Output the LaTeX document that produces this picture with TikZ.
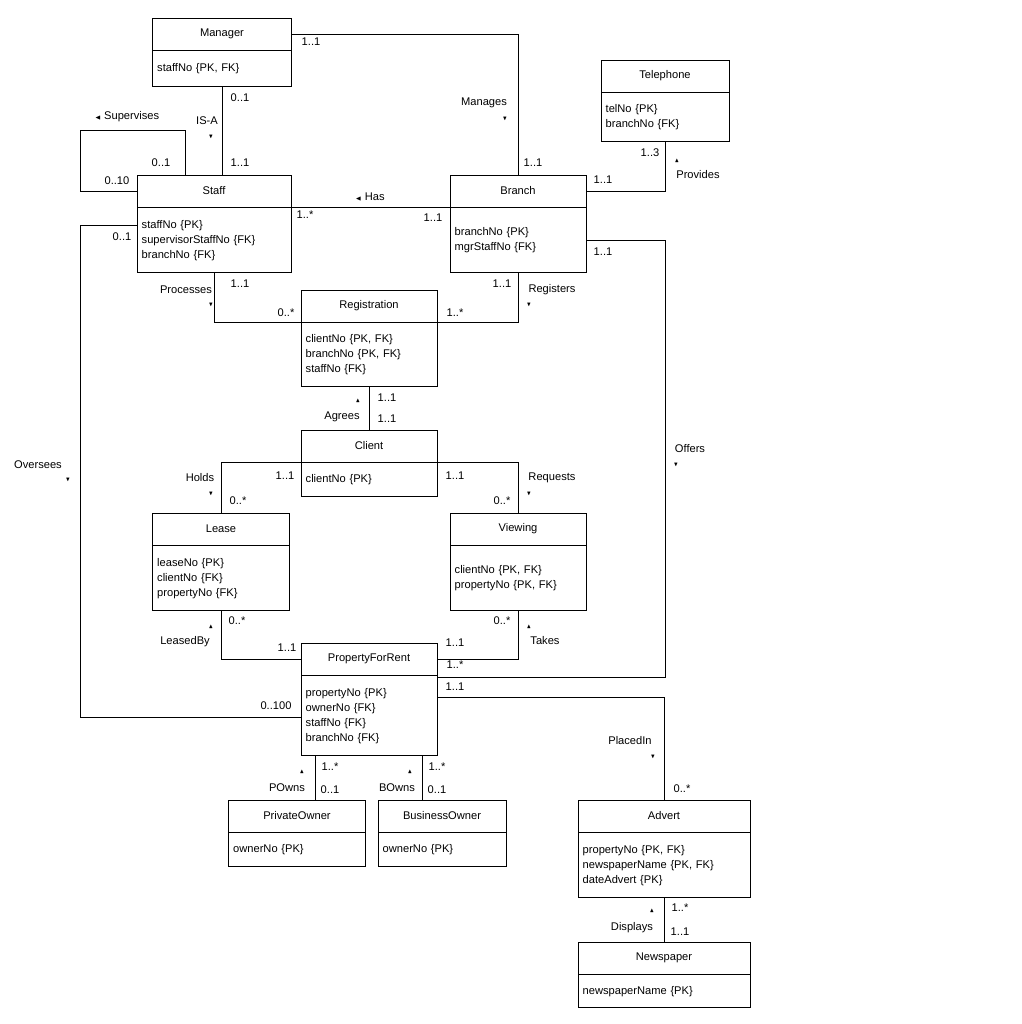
\documentclass[tikz,border=0pt]{standalone}
\usepackage{amssymb}
\usepackage{fontspec}
\setmainfont{Liberation Sans}
\usetikzlibrary{positioning,calc}
\tikzstyle{classhead} = [draw, thick, minimum height=9.6mm, inner sep=0pt]
\tikzstyle{classbody} = [draw, thick, inner xsep=4pt, inner ysep=2pt, align=left]
\tikzstyle{lbl} = [inner sep=1pt]
\tikzstyle{link} = [draw, thick]
\newcommand{\dn}{{\tiny$\blacktriangledown$}}
\newcommand{\up}{{\tiny$\blacktriangle$}}
\newcommand{\lf}{{\tiny$\blacktriangleleft$}}
% name, position, width (px), title, body height (px), attributes
\newcommand{\umlclass}[6]{%
  \pgfmathsetlengthmacro\clw{#3*0.3mm}%
  \pgfmathsetlengthmacro\clt{#3*0.3mm-8pt}%
  \pgfmathsetlengthmacro\clh{#5*0.3mm}%
  \node[classhead, minimum width=\clw] (#1) at (#2) {#4};
  \node[classbody, text width=\clt, minimum height=\clh, below=0pt of #1] (#1-attr) {#6};
}

\begin{document}
\begin{tikzpicture}[x=0.3mm, y=-0.3mm, font=\fontsize{9.5}{12.8}\selectfont, line width=0.6pt]
  \useasboundingbox (0,0) rectangle (1021,1024);

  \umlclass{manager}{222,34}{139}{Manager}{36}{staffNo \{PK, FK\}}
  \umlclass{telephone}{665,76}{128}{Telephone}{49}{telNo \{PK\}\\branchNo \{FK\}}
  \umlclass{staff}{214,191}{154}{Staff}{65}{staffNo \{PK\}\\supervisorStaffNo \{FK\}\\branchNo \{FK\}}
  \umlclass{branch}{518,191}{136}{Branch}{65}{branchNo \{PK\}\\mgrStaffNo \{FK\}}
  \umlclass{registration}{369,306}{136}{Registration}{64}{clientNo \{PK, FK\}\\branchNo \{PK, FK\}\\staffNo \{FK\}}
  \umlclass{client}{369,446}{136}{Client}{34}{\centering clientNo \{PK\}}
  \umlclass{lease}{221,529}{137}{Lease}{65}{leaseNo \{PK\}\\clientNo \{FK\}\\propertyNo \{FK\}}
  \umlclass{viewing}{518,529}{136}{Viewing}{65}{clientNo \{PK, FK\}\\propertyNo \{PK, FK\}}
  \umlclass{pfr}{369,659}{136}{PropertyForRent}{80}{propertyNo \{PK\}\\ownerNo \{FK\}\\staffNo \{FK\}\\branchNo \{FK\}}
  \umlclass{powner}{297,816}{137}{PrivateOwner}{34}{\centering ownerNo \{PK\}}
  \umlclass{bowner}{442,816}{128}{BusinessOwner}{34}{\centering ownerNo \{PK\}}
  \umlclass{advert}{664,816}{172}{Advert}{65}{propertyNo \{PK, FK\}\\newspaperName \{PK, FK\}\\dateAdvert \{PK\}}
  \umlclass{newspaper}{664,958}{172}{Newspaper}{33}{\centering newspaperName \{PK\}}

  % connectors
  \coordinate (sv) at (80,130);
  \coordinate (ov) at (80,717);
  \coordinate (of) at (665,677);
  \draw[link] (manager.east) -| (branch.north);
  \draw[link] (manager-attr.south) -- (manager-attr.south |- staff.north);
  \draw[link] (staff.west) -| (sv) -| ($(staff.north)+(-29,0)$);
  \draw[link] (staff.south east) -- (branch.south west);
  \draw[link] (branch.east) -| (telephone-attr.south);
  \draw[link] ($(branch-attr.north east)+(0,33)$) -| (of) -- (of -| pfr.east);
  \draw[link] ($(staff-attr.north west)+(0,18)$) -| (ov) -- (ov -| pfr-attr.west);
  \draw[link] (staff-attr.south) |- (registration.south west);
  \draw[link] (branch-attr.south) |- (registration.south east);
  \draw[link] (registration-attr.south) -- (client.north);
  \draw[link] (client.south west) -| (lease.north);
  \draw[link] (client.south east) -| (viewing.north);
  \draw[link] (lease-attr.south) |- (pfr.west);
  \draw[link] (viewing-attr.south) |- (pfr.east);
  \draw[link] ($(pfr-attr.north east)+(0,22)$) -| (advert.north);
  \draw[link] ($(pfr-attr.south)+(-54,0)$) coordinate (po) -- (po |- powner.north);
  \draw[link] ($(pfr-attr.south)+(53,0)$) coordinate (bo) -- (bo |- bowner.north);
  \draw[link] (advert-attr.south) -- (newspaper.north);

  % labels
  \node[lbl] (l1) at (311,42) {1..1};
  \node[lbl] (l2) at (484,103) {Manages};
  \node[lbl] (l3) at (505,119) {\dn};
  \node[lbl] (l4) at (533,163) {1..1};
  \node[lbl] (l5) at (240,98) {0..1};
  \node[lbl] (l6) at (207,121) {IS-A};
  \node[lbl] (l7) at (211,137) {\dn};
  \node[lbl] (l8) at (240,163) {1..1};
  \node[lbl] (l9) at (127,117) {\lf\ Supervises};
  \node[lbl] (l10) at (161,163) {0..1};
  \node[lbl] (l11) at (117,181) {0..10};
  \node[lbl] (l12) at (370,197) {\lf\ Has};
  \node[lbl] (l13) at (305,215) {1..*};
  \node[lbl] (l14) at (433,218) {1..1};
  \node[lbl] (l15) at (603,180) {1..1};
  \node[lbl] (l16) at (650,153) {1..3};
  \node[lbl] (l17) at (698,175) {Provides};
  \node[lbl] (l18) at (677,161) {\up};
  \node[lbl] (l19) at (603,252) {1..1};
  \node[lbl] (l20) at (690,449) {Offers};
  \node[lbl] (l21) at (676,465) {\dn};
  \node[lbl] (l22) at (455,665) {1..*};
  \node[lbl] (l23) at (122,237) {0..1};
  \node[lbl] (l24) at (38,465) {Oversees};
  \node[lbl] (l25) at (68,480) {\dn};
  \node[lbl] (l26) at (276,706) {0..100};
  \node[lbl] (l27) at (240,284) {1..1};
  \node[lbl] (l28) at (186,290) {Processes};
  \node[lbl] (l29) at (211,305) {\dn};
  \node[lbl] (l30) at (286,313) {0..*};
  \node[lbl] (l31) at (502,284) {1..1};
  \node[lbl] (l32) at (552,290) {Registers};
  \node[lbl] (l33) at (529,305) {\dn};
  \node[lbl] (l34) at (455,313) {1..*};
  \node[lbl] (l35) at (358,401) {\up};
  \node[lbl] (l36) at (342,417) {Agrees};
  \node[lbl] (l37) at (387,398) {1..1};
  \node[lbl] (l38) at (387,419) {1..1};
  \node[lbl] (l39) at (285,476) {1..1};
  \node[lbl] (l40) at (200,478) {Holds};
  \node[lbl] (l41) at (211,494) {\dn};
  \node[lbl] (l42) at (238,501) {0..*};
  \node[lbl] (l43) at (455,476) {1..1};
  \node[lbl] (l44) at (552,478) {Requests};
  \node[lbl] (l45) at (529,494) {\dn};
  \node[lbl] (l46) at (502,501) {0..*};
  \node[lbl] (l47) at (237,621) {0..*};
  \node[lbl] (l48) at (211,627) {\up};
  \node[lbl] (l49) at (185,642) {LeasedBy};
  \node[lbl] (l50) at (287,648) {1..1};
  \node[lbl] (l51) at (502,621) {0..*};
  \node[lbl] (l52) at (529,627) {\up};
  \node[lbl] (l53) at (545,641) {Takes};
  \node[lbl] (l54) at (455,643) {1..1};
  \node[lbl] (l55) at (455,687) {1..1};
  \node[lbl] (l56) at (630,741) {PlacedIn};
  \node[lbl] (l57) at (653,757) {\dn};
  \node[lbl] (l58) at (682,789) {0..*};
  \node[lbl] (l59) at (302,772) {\up};
  \node[lbl] (l60) at (287,788) {POwns};
  \node[lbl] (l61) at (330,767) {1..*};
  \node[lbl] (l62) at (330,790) {0..1};
  \node[lbl] (l63) at (410,772) {\up};
  \node[lbl] (l64) at (397,788) {BOwns};
  \node[lbl] (l65) at (437,767) {1..*};
  \node[lbl] (l66) at (437,790) {0..1};
  \node[lbl] (l67) at (652,911) {\up};
  \node[lbl] (l68) at (632,928) {Displays};
  \node[lbl] (l69) at (680,908) {1..*};
  \node[lbl] (l70) at (680,932) {1..1};
\end{tikzpicture}
\end{document}
